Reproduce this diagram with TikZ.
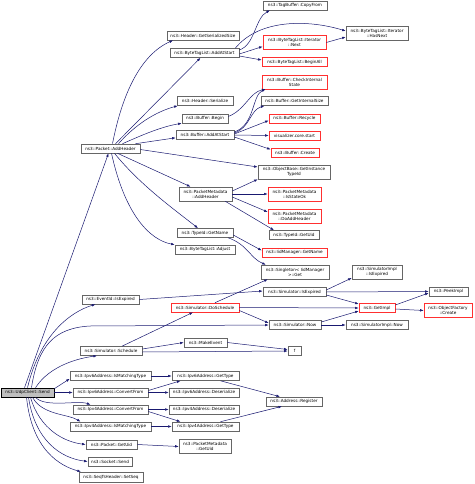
\documentclass[tikz,border=0pt]{standalone}
\usepackage{fontspec}
\newfontfamily\djv{DejaVu Sans}
\usetikzlibrary{arrows.meta}
\definecolor{edgec}{HTML}{191970}
\definecolor{boxc}{HTML}{666666}
\definecolor{redc}{HTML}{FF3030}
\definecolor{rootc}{HTML}{BFBFBF}
\begin{document}
\begin{tikzpicture}[x=1pt,y=-1pt,
  nb/.style={draw=boxc, line width=0.6pt, fill=white, rectangle, inner sep=0pt, align=center,
     font=\djv\fontsize{4.2}{5}\selectfont, minimum height=9pt},
  nr/.style={nb, draw=redc},
  nroot/.style={nb, fill=rootc, draw=black},
  two/.style={minimum height=14pt},
  e/.style={draw=edgec, line width=0.5pt, -{Latex[length=3.6pt,width=2.6pt]}}]
\useasboundingbox (0,0) rectangle (474,484);
% column 1
\node[nroot, minimum width=53pt] (send) at (27.5,392.5) {ns3::UdpClient::Send};
% column 2
\node[nb, minimum width=59pt] (addh) at (110.5,148.5) {ns3::Packet::AddHeader};
\node[nb, minimum width=57pt] (evexp) at (110.5,299.5) {ns3::EventId::IsExpired};
\node[nb, minimum width=62pt] (sched) at (111,351) {ns3::Simulator::Schedule};
\node[nb, minimum width=81pt] (v6imt) at (110.5,376) {ns3::Ipv6Address::IsMatchingType};
\node[nb, minimum width=75pt] (v6cf) at (110.5,392.5) {ns3::Ipv6Address::ConvertFrom};
\node[nb, minimum width=75pt] (v4cf) at (110.5,409.5) {ns3::Ipv4Address::ConvertFrom};
\node[nb, minimum width=81pt] (v4imt) at (110.5,426.5) {ns3::Ipv4Address::IsMatchingType};
\node[nb, minimum width=51pt] (pgetuid) at (111.5,444.5) {ns3::Packet::GetUid};
\node[nb, minimum width=44pt] (ssend) at (110,461.5) {ns3::Socket::Send};
\node[nb, minimum width=64pt, minimum height=10pt] (setseq) at (111,477) {ns3::SeqTsHeader::SetSeq};
% column 3
\node[nb, minimum width=72pt] (gss) at (203,35.5) {ns3::Header::GetSerializedSize};
\node[nb, minimum width=69pt] (btlaas) at (204.5,53) {ns3::ByteTagList::AddAtStart};
\node[nb, minimum width=56pt] (hser) at (205,101) {ns3::Header::Serialize};
\node[nb, minimum width=46pt] (bbegin) at (205,118.5) {ns3::Buffer::Begin};
\node[nb, minimum width=58pt] (baas) at (205,135) {ns3::Buffer::AddAtStart};
\node[nb, two, minimum width=53pt] (pmaddh) at (205.5,194) {ns3::PacketMetadata\\::AddHeader};
\node[nb, minimum width=56pt] (tidname) at (205,233) {ns3::TypeId::GetName};
\node[nb, minimum width=60pt] (adjust) at (205,249.5) {ns3::ByteTagList::Adjust};
\node[nr, minimum width=68pt] (dosched) at (205,307.5) {ns3::Simulator::DoSchedule};
\node[nb, minimum width=43pt] (makeev) at (205.5,342.5) {ns3::MakeEvent};
\node[nb, minimum width=67pt] (v6gt) at (205.5,376) {ns3::Ipv6Address::GetType};
\node[nb, minimum width=70pt] (v6des) at (204,392.5) {ns3::Ipv6Address::Deserialize};
\node[nb, minimum width=70pt] (v4des) at (204,409.5) {ns3::Ipv4Address::Deserialize};
\node[nb, minimum width=67pt] (v4gt) at (205.5,426.5) {ns3::Ipv4Address::GetType};
\node[nb, two, minimum width=52pt] (pmgetuid) at (205,446.5) {ns3::PacketMetadata\\::GetUid};
% column 4
\node[nb, minimum width=64pt] (copyfrom) at (295,5.5) {ns3::TagBuffer::CopyFrom};
\node[nr, two, minimum width=63pt] (next) at (294.5,42.5) {ns3::ByteTagList::Iterator\\::Next};
\node[nr, minimum width=65pt] (beginall) at (294.5,62) {ns3::ByteTagList::BeginAll};
\node[nr, two, minimum width=65pt] (cis) at (294.5,82) {ns3::Buffer::CheckInternal\\State};
\node[nb, minimum width=67pt] (gis) at (294.5,101) {ns3::Buffer::GetInternalSize};
\node[nr, minimum width=51pt] (recycle) at (294.5,118.5) {ns3::Buffer::Recycle};
\node[nr, minimum width=51pt] (vis) at (294.5,135.5) {visualizer.core.start};
\node[nr, minimum width=48pt] (bcreate) at (295,152.5) {ns3::Buffer::Create};
\node[nb, two, minimum width=72pt] (gitid) at (294,172) {ns3::ObjectBase::GetInstance\\TypeId};
\node[nr, two, minimum width=53pt] (isok) at (294.5,194) {ns3::PacketMetadata\\::IsStateOk};
\node[nr, two, minimum width=53pt] (doadd) at (294.5,216) {ns3::PacketMetadata\\::DoAddHeader};
\node[nb, minimum width=50pt] (getuid) at (294,235) {ns3::TypeId::GetUid};
\node[nr, minimum width=65pt] (iidname) at (294.5,252.5) {ns3::IidManager::GetName};
\node[nb, two, minimum width=68pt] (singleton) at (295,272) {ns3::Singleton< IidManager\\>::Get};
\node[nb, minimum width=63pt] (simexp) at (294.5,292) {ns3::Simulator::IsExpired};
\node[nb, minimum width=52pt] (simnow) at (295,325) {ns3::Simulator::Now};
\node[nb, minimum width=13pt] (f) at (294.5,351) {f};
\node[nb, minimum width=56pt] (reg) at (294,401.5) {ns3::Address::Register};
% column 5
\node[nb, two, minimum width=62pt] (hasnext) at (377,33) {ns3::ByteTagList::Iterator\\::HasNext};
\node[nb, two, minimum width=50pt] (simplexp) at (377,272) {ns3::SimulatorImpl\\::IsExpired};
\node[nr, minimum width=36pt] (getimpl) at (377,308) {ns3::GetImpl};
\node[nb, minimum width=62pt] (simplnow) at (377,325) {ns3::SimulatorImpl::Now};
% column 6
\node[nb, minimum width=39pt] (peek) at (448.5,291.5) {ns3::PeekImpl};
\node[nr, two, minimum width=48pt] (ofc) at (448,310.5) {ns3::ObjectFactory\\::Create};

% edges from send
\draw[e] ([xshift=-3pt]send.north) -- ([xshift=-2pt]addh.south);
\draw[e] (send.north) .. controls (40,335) and (70,312) .. ([xshift=-15pt]evexp.south);
\draw[e] ([xshift=4pt]send.north) .. controls (38,345) and (55,328) .. (90,326) -- (simnow.west);
\draw[e] ([xshift=8pt]send.north) .. controls (50,365) and (80,358) .. ([xshift=-14pt]sched.south);
\draw[e] ([yshift=-1pt]send.north east) -- ([yshift=2pt]v6imt.south west);
\draw[e] (send.east) -- (v6cf.west);
\draw[e] ([xshift=8pt]send.south) .. controls (45,408) and (78,400) .. ([xshift=-20pt]v4cf.north);
\draw[e] ([xshift=5pt]send.south) .. controls (42,415) and (68,414) .. ([xshift=-30pt]v4imt.north);
\draw[e] ([xshift=3pt]send.south) .. controls (40,430) and (65,442) .. (pgetuid.west);
\draw[e] ([xshift=1pt]send.south) .. controls (35,440) and (60,458) .. (ssend.west);
\draw[e] ([xshift=-1pt]send.south) .. controls (32,450) and (60,466) .. ([xshift=-30pt]setseq.north);
% edges from addh
\draw[e] ([xshift=2pt]addh.north) .. controls (122,95) and (140,55) .. ([xshift=-30pt]gss.south);
\draw[e] ([xshift=5pt]addh.north) -- ([xshift=-4pt]btlaas.south);
\draw[e] ([xshift=8pt]addh.north) .. controls (135,125) and (155,112) .. ([xshift=1pt]hser.south west);
\draw[e] ([xshift=12pt]addh.north) .. controls (140,136) and (160,127) .. (bbegin.south west);
\draw[e] ([xshift=25pt]addh.north) -- ([yshift=2pt]baas.south west);
\draw[e] ([yshift=-1pt]addh.east) -- ([yshift=5pt]gitid.west);
\draw[e] ([xshift=7pt]addh.south) -- ([xshift=-15pt]pmaddh.north);
\draw[e] ([xshift=4pt]addh.south) .. controls (140,185) and (175,210) .. ([xshift=-7pt]tidname.north);
\draw[e] ([xshift=1pt]addh.south) .. controls (125,215) and (150,240) .. (adjust.north west);
% btlaas
\draw[e] ([yshift=3pt]btlaas.east) .. controls (255,45) and (255,18) .. ([xshift=-25pt]copyfrom.south);
\draw[e] ([xshift=-4pt]btlaas.north east) .. controls (260,18) and (310,20) .. ([yshift=2pt]hasnext.west);
\draw[e] ([yshift=-1pt]btlaas.east) -- ([yshift=-4pt]next.west);
\draw[e] ([yshift=-3pt]btlaas.east) -- ([yshift=2pt]beginall.west);
\draw[e] (next.east) -- ([yshift=-4pt]hasnext.west);
% buffer
\draw[e] ([yshift=2pt]bbegin.east) .. controls (245,110) and (250,92) .. ([xshift=-29pt]cis.south);
\draw[e] ([yshift=3pt]baas.east) .. controls (255,125) and (252,95) .. ([xshift=-29pt]cis.south);
\draw[e] ([yshift=2pt]baas.east) .. controls (250,128) and (250,110) .. ([xshift=-30pt]gis.south);
\draw[e] ([yshift=1pt]baas.east) -- ([yshift=-2pt]recycle.west);
\draw[e] (baas.east) -- (vis.west);
\draw[e] ([yshift=-2pt]baas.east) -- ([yshift=3pt]bcreate.west);
% packet metadata
\draw[e] ([yshift=3pt]pmaddh.east) -- (gitid.south west);
\draw[e] (pmaddh.east) -- (isok.west);
\draw[e] ([yshift=-3pt]pmaddh.east) -- ([yshift=4pt]doadd.west);
\draw[e] ([xshift=-7pt]pmaddh.south east) -- ([xshift=-20pt]getuid.north);
% typeid
\draw[e] ([yshift=-2pt]tidname.east) -- ([yshift=2pt]iidname.west);
\draw[e] ([xshift=-5pt]tidname.south east) .. controls (248,245) and (250,258) .. ([xshift=5pt]singleton.north west);
% simulator
\draw[e] (evexp.east) -- ([yshift=1pt]simexp.west);
\draw[e] ([xshift=11pt]sched.north) -- ([xshift=-12pt]dosched.south);
\draw[e] ([yshift=2pt]sched.east) -- (makeev.west);
\draw[e] ([yshift=-1pt]sched.east) -- (f.west);
\draw[e] (makeev.east) -- ([yshift=1.5pt]f.west);
\draw[e] ([xshift=10pt]dosched.north) -- ([xshift=7pt]singleton.south west);
\draw[e] (dosched.east) -- (getimpl.west);
\draw[e] ([yshift=-3pt]dosched.east) -- ([yshift=2pt]simnow.west);
\draw[e] ([yshift=2pt]simexp.east) -- ([yshift=-6pt]simplexp.west);
\draw[e] (simexp.east) -- (peek.west);
\draw[e] ([yshift=-3pt]simexp.east) -- ([yshift=4pt]getimpl.west);
\draw[e] ([yshift=3pt]simnow.east) -- ([yshift=-3pt]getimpl.west);
\draw[e] (simnow.east) -- (simplnow.west);
\draw[e] ([yshift=3pt]getimpl.east) -- ([yshift=-1.5pt]peek.west);
\draw[e] ([yshift=-1pt]getimpl.east) -- (ofc.west);
% ip addresses
\draw[e] (v6imt.east) -- (v6gt.west);
\draw[e] ([yshift=2pt]v6cf.east) -- ([xshift=-25pt]v6gt.south);
\draw[e] (v6cf.east) -- (v6des.west);
\draw[e] (v4cf.east) -- (v4des.west);
\draw[e] ([yshift=-2pt]v4cf.east) -- ([xshift=-25pt]v4gt.north);
\draw[e] (v4imt.east) -- (v4gt.west);
\draw[e] ([xshift=15pt]v6gt.south) -- ([xshift=-14pt]reg.north);
\draw[e] ([xshift=15pt]v4gt.north) -- ([xshift=-12pt]reg.south);
\draw[e] (pgetuid.east) -- (pmgetuid.west);
\end{tikzpicture}
\end{document}
